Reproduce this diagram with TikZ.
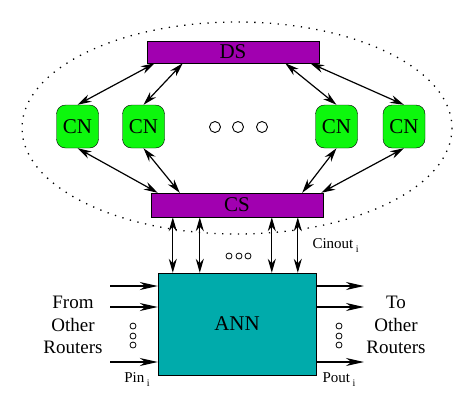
\documentclass[tikz,border=0pt]{standalone}
\usepackage{fontspec}
\setmainfont{Liberation Serif}
\usepackage{tikz}
\usetikzlibrary{arrows.meta}
\usetikzlibrary{positioning}
\usetikzlibrary{calc}
\definecolor{mpurple}{rgb}{0.63, 0.0, 0.69}
\definecolor{mgreen}{rgb}{0.05, 0.97, 0.05}
\definecolor{mteal}{rgb}{0.0, 0.67, 0.67}
\tikzset{>={Stealth[length=14pt, width=8pt, inset=4.5pt]},
         server/.style = {draw, fill=mpurple, inner sep=0pt, minimum width=172pt,
                          font=\fontsize{21}{21}\selectfont},
         cnode/.style = {draw, fill=mgreen, rounded corners=9pt, inner sep=0pt,
                         minimum width=42pt, minimum height=43pt,
                         font=\fontsize{21}{21}\selectfont},
         link/.style = {<->, line width=1.2pt},
         feed/.style = {->, line width=1.2pt, >={Stealth[length=18pt, width=8pt, inset=5.5pt]}},
         routers/.style = {align=center, font=\fontsize{19}{22.5}\selectfont},
         small/.style = {font=\fontsize{15}{15}\selectfont}}
\newcommand{\subi}{\,{\fontsize{10}{10}\selectfont\raisebox{-4pt}{i}}}

\begin{document}
\begin{tikzpicture}[x=1pt, y=-1pt]
      \useasboundingbox (0, 0) rectangle (474, 408);

      % dotted cluster outline
      \draw [line width=1.3pt, dash pattern=on 1.3pt off 6.5pt] (237, 128) ellipse [x radius=215, y radius=106];

      \node [server, minimum height=22pt] (ds) at (233, 52) {DS};
      \node [server, minimum height=24pt] (cs) at (237, 205) {CS};

      \node [cnode] (cn1) at (77.5, 126.5) {CN};
      \node [cnode] (cn2) at (143.5, 126.5) {CN};
      \node [cnode] (cn3) at (336.5, 126.5) {CN};
      \node [cnode] (cn4) at (404, 126.5) {CN};

      \foreach \x in {215, 238, 262}
        \draw [line width=0.9pt] (\x, 127) circle (5.5);

      \draw [link] (cn1.north) -- ([xshift=8]ds.south west);
      \draw [link] (cn2.north) -- ([xshift=36]ds.south west);
      \draw [link] (cn3.north) -- ([xshift=-34]ds.south east);
      \draw [link] (cn4.north) -- ([xshift=-9]ds.south east);

      \draw [link] (cn1.south) -- ([xshift=7]cs.north west);
      \draw [link] (cn2.south) -- ([xshift=29]cs.north west);
      \draw [link] (cn3.south) -- ([xshift=-21]cs.north east);
      \draw [link] (cn4.south) -- ([xshift=-2]cs.north east);

      \node [draw, fill=mteal, inner sep=0pt, minimum width=158pt, minimum height=102pt,
             font=\fontsize{21}{21}\selectfont] (ann) at (237, 324) {ANN};

      \draw [link] ([xshift=22]cs.south west) -- ([xshift=15]ann.north west);
      \draw [link] ([xshift=49]cs.south west) -- ([xshift=42]ann.north west);
      \draw [link] ([xshift=121]cs.south west) -- ([xshift=114]ann.north west);
      \draw [link] ([xshift=147]cs.south west) -- ([xshift=140]ann.north west);

      \foreach \x in {229, 239, 248}
        \draw [line width=0.8pt] (\x, 256) circle (3);

      \node [small, anchor=west] (cinout) at (309, 246) {Cinout\subi};

      % router links
      \foreach \y [count=\i] in {286, 307, 362} {
        \coordinate (in\i) at (110, \y);
        \coordinate (out\i) at (364, \y);
        \draw [feed] (in\i) -- (in\i -| ann.west);
        \draw [feed] (in\i -| ann.east) -- (out\i);
      }

      \foreach \y in {326, 336, 345} {
        \draw [line width=0.8pt] (133, \y) circle (3);
        \draw [line width=0.8pt] (339, \y) circle (3);
      }

      \node [routers] (from) at (73, 325) {From\\Other\\Routers};
      \node [routers] (to) at (396, 325) {To\\Other\\Routers};

      \node [small] (pin) at (137, 380) {Pin\subi};
      \node [small] (pout) at (339, 380) {Pout\subi};
    \end{tikzpicture}
\end{document}
